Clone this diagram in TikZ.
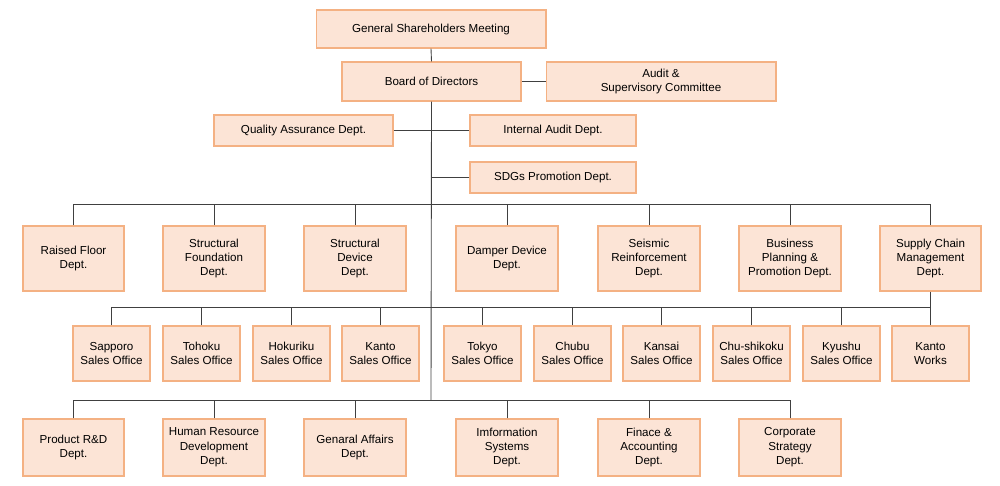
\documentclass[tikz,border=0pt]{standalone}
\usepackage{fontspec}
\setmainfont{Liberation Sans}
\usetikzlibrary{calc}
\definecolor{BoxFill}{HTML}{FCE4D6}
\definecolor{BoxLine}{HTML}{F4B183}
\definecolor{LinkColor}{HTML}{404040}
\newcommand{\OrgBox}[6]{%
  % #1 name, #2 left, #3 top, #4 right, #5 bottom, #6 text
  \node[orgbox,minimum width={(#4-#2)*0.2mm},minimum height={(#5-#3)*0.2mm}]
    (#1) at ({(#2+#4)/2},{(#3+#5)/2}) {#6};
}
\begin{document}
\begin{tikzpicture}[x=0.02cm,y=-0.02cm,
  orgbox/.style={draw=BoxLine,fill=BoxFill,line width=0.6pt,inner sep=1pt,
    align=center,font=\fontsize{6.6}{8.2}\selectfont},
  link/.style={draw=LinkColor,line width=0.5pt}
]
\useasboundingbox (0,0) rectangle (1000,485);

% Top management
\OrgBox{gsm}{316}{10}{546}{48}{General Shareholders Meeting}
\OrgBox{board}{342}{62}{521}{101}{Board of Directors}
\OrgBox{audit}{546}{62}{776}{101}{Audit \&\\Supervisory Committee}
\OrgBox{qa}{214}{115}{393}{146}{Quality Assurance Dept.}
\OrgBox{iaudit}{470}{115}{636}{146}{Internal Audit Dept.}
\OrgBox{sdgs}{470}{162}{636}{193}{SDGs Promotion Dept.}

% Departments
\OrgBox{floor}{23}{226}{124}{291}{Raised Floor\\Dept.}
\OrgBox{found}{163}{226}{265}{291}{Structural\\Foundation\\Dept.}
\OrgBox{device}{304}{226}{406}{291}{Structural\\Device\\Dept.}
\OrgBox{damper}{456}{226}{558}{291}{Damper Device\\Dept.}
\OrgBox{seismic}{598}{226}{700}{291}{Seismic\\Reinforcement\\Dept.}
\OrgBox{bplan}{739}{226}{841}{291}{Business\\Planning \&\\Promotion Dept.}
\OrgBox{supply}{880}{226}{981}{291}{Supply Chain\\Management\\Dept.}

% Sales offices
\OrgBox{sapporo}{73}{326}{150}{381}{Sapporo\\Sales Office}
\OrgBox{tohoku}{163}{326}{240}{381}{Tohoku\\Sales Office}
\OrgBox{hokuriku}{253}{326}{330}{381}{Hokuriku\\Sales Office}
\OrgBox{kanto}{342}{326}{419}{381}{Kanto\\Sales Office}
\OrgBox{tokyo}{444}{326}{521}{381}{Tokyo\\Sales Office}
\OrgBox{chubu}{534}{326}{611}{381}{Chubu\\Sales Office}
\OrgBox{kansai}{623}{326}{700}{381}{Kansai\\Sales Office}
\OrgBox{chushi}{713}{326}{790}{381}{Chu-shikoku\\Sales Office}
\OrgBox{kyushu}{803}{326}{880}{381}{Kyushu\\Sales Office}
\OrgBox{kworks}{892}{326}{969}{381}{Kanto\\Works}

% Staff departments
\OrgBox{prd}{23}{419}{124}{476}{Product R\&D\\Dept.}
\OrgBox{hrd}{163}{419}{265}{476}{Human Resource\\Development\\Dept.}
\OrgBox{genaff}{304}{419}{406}{476}{Genaral Affairs\\Dept.}
\OrgBox{infosys}{456}{419}{558}{476}{Imformation\\Systems\\Dept.}
\OrgBox{finance}{598}{419}{700}{476}{Finace \&\\Accounting\\Dept.}
\OrgBox{corp}{739}{419}{841}{476}{Corporate\\Strategy\\Dept.}

% Spine and branches
\coordinate (rowA) at (431,204);
\coordinate (rowB) at (431,307);
\coordinate (rowC) at (431,400);
\draw[link] (gsm.south) -- (board.north);
\draw[link] (board.east) -- (audit.west);
\draw[link] (board.south) -- (rowC);
\draw[link] (qa.east) -- (iaudit.west);
\draw[link] (sdgs.west) -- (sdgs.west -| rowA);
\foreach \n in {floor,found,device,damper,seismic,bplan,supply}
  \draw[link] (\n.north) |- (rowA);
\foreach \n in {sapporo,tohoku,hokuriku,kanto,tokyo,chubu,kansai,chushi,kyushu,kworks}
  \draw[link] (\n.north) |- (rowB);
\draw[link] (supply.south) -- (kworks.north);
\foreach \n in {prd,hrd,genaff,infosys,finance,corp}
  \draw[link] (\n.north) |- (rowC);

\end{tikzpicture}
\end{document}
